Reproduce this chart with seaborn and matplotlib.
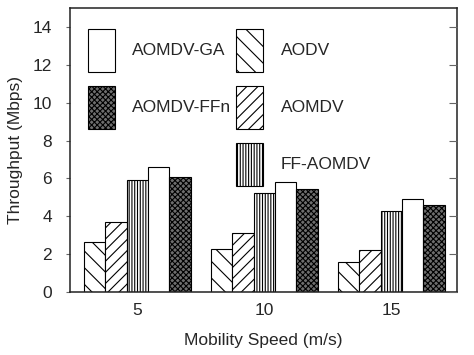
import pandas as pd
import matplotlib
matplotlib.use('Agg')
import matplotlib.pyplot as plt
import matplotlib.patches as mpatches
import seaborn as sns

# --- dados ---
speeds = ['5', '10', '15']
protocols = ['AODV', 'AOMDV', 'FF-AOMDV', 'AOMDV-GA', 'AOMDV-FFn']
aodv = [2.63, 2.28, 1.61]
aomdv = [3.71, 3.11, 2.21]
ff_aomdv = [5.90, 5.21, 4.29]
aomdv_ga = [6.61, 5.80, 4.91]
aomdv_ffn = [6.08, 5.43, 4.61]
yticks = [0, 2, 4, 6, 8, 10, 12, 14]

valores = [aodv, aomdv, ff_aomdv, aomdv_ga, aomdv_ffn]
linhas = []
for proto, vals in zip(protocols, valores):
    for s, v in zip(speeds, vals):
        linhas.append({'speed': s, 'throughput': v, 'proto': proto})
df = pd.DataFrame(linhas)

sns.set_style('ticks')
plt.rcParams['font.family'] = ['Liberation Sans', 'DejaVu Sans']
plt.rcParams['hatch.linewidth'] = 0.8

fig = plt.figure(figsize=(4.74, 3.55), dpi=100)
ax = fig.add_axes([70/474, 63/355, 387/474, 284/355])

sns.barplot(data=df, x='speed', y='throughput', hue='proto', hue_order=protocols,
            palette=['white'] * 5, saturation=1, edgecolor='black', linewidth=0.8,
            width=0.84, legend=False, ax=ax)

# hachuras de cada série
estilos = {
    'AODV': ('white', '\\\\'),
    'AOMDV': ('white', '///'),
    'FF-AOMDV': ('white', '||||||'),
    'AOMDV-GA': ('white', ''),
    'AOMDV-FFn': ('#6e6e6e', 'xxxxxx'),
}
for cont, proto in zip(ax.containers, protocols):
    fc, h = estilos[proto]
    for p in cont.patches:
        p.set_facecolor(fc)
        p.set_hatch(h)

ax.set_ylim(0, 15)
ax.set_xlim(-0.531, 2.516)
ax.set_yticks(yticks)
ax.set_xlabel('Mobility Speed (m/s)', fontsize=12.5, labelpad=11)
ax.set_ylabel('Throughput (Mbps)', fontsize=12.5, labelpad=7)
ax.tick_params(axis='x', length=0, pad=8, labelsize=12.5)
ax.tick_params(axis='y', which='both', direction='out', length=3, pad=10, labelsize=12.5,
               color='#666666')
for sp in ax.spines.values():
    sp.set_color('#222222')
    sp.set_linewidth(1.1)

# ticks do lado direito para dentro
ax2 = ax.twinx()
ax2.set_ylim(ax.get_ylim())
ax2.set_yticks(yticks)
ax2.tick_params(axis='y', direction='in', length=6, labelright=False, color='#666666')
for sp in ax2.spines.values():
    sp.set_visible(False)

# --- legenda ---
c = {proto: cont for proto, cont in zip(protocols, ax.containers)}
vazio = mpatches.Patch(facecolor='none', edgecolor='none')
handles = [c['AOMDV-GA'], c['AOMDV-FFn'], vazio, c['AODV'], c['AOMDV'], c['FF-AOMDV']]
labels = ['AOMDV-GA', 'AOMDV-FFn', '', 'AODV', 'AOMDV', 'FF-AOMDV']
ax.legend(handles, labels, ncol=2, loc='upper left', bbox_to_anchor=(0.0457, 0.926),
          frameon=False, fontsize=12.5, handlelength=1.55, handleheight=3.43,
          labelspacing=0.8, handletextpad=1.0, columnspacing=0.3,
          borderpad=0, borderaxespad=0)

plt.savefig('out.png', dpi=100)
